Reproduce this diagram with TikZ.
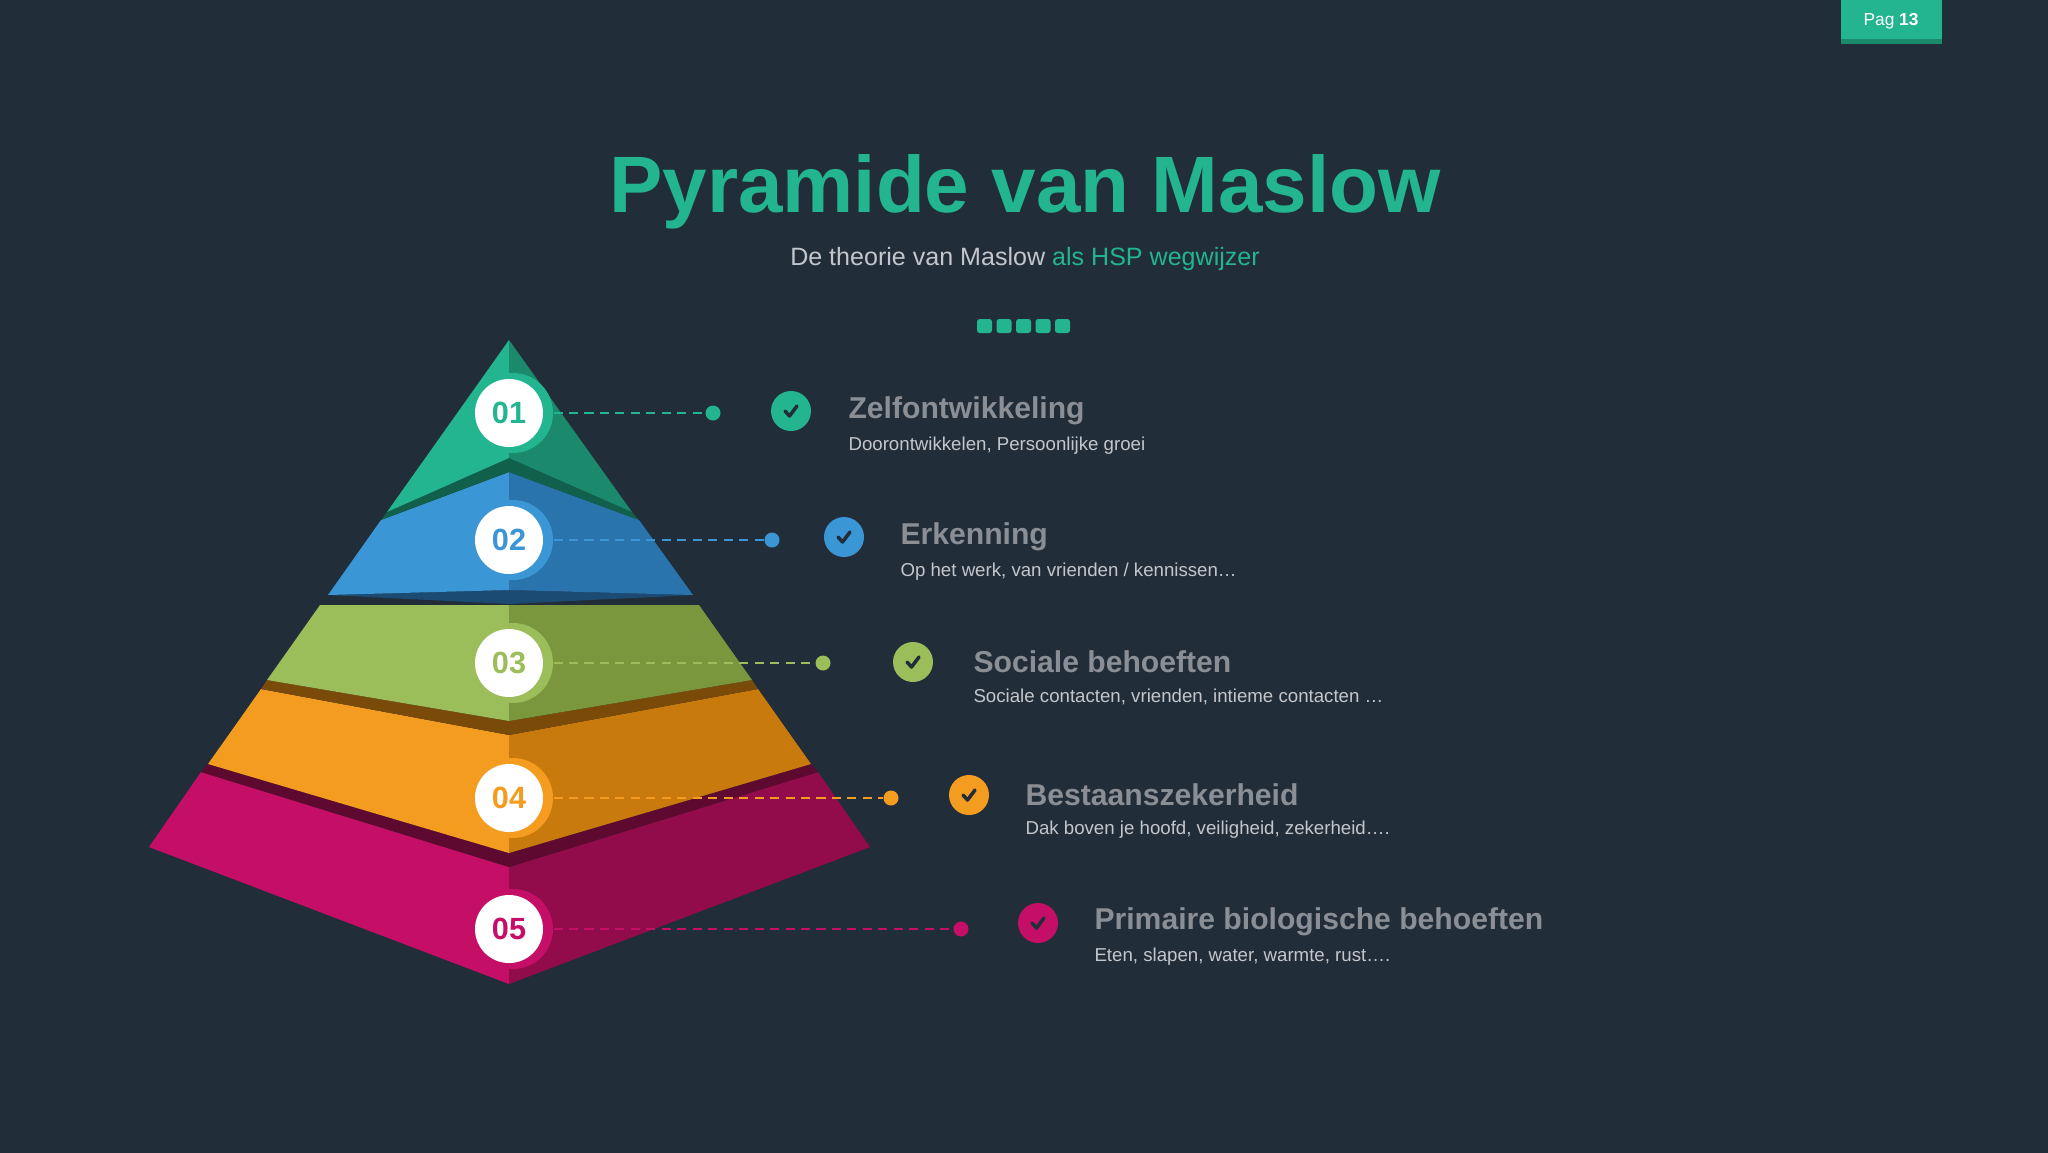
\documentclass[tikz,border=0pt]{standalone}
\usepackage{fontspec}
\setmainfont{Liberation Sans}
\begin{document}
\begin{tikzpicture}[x=0.375pt,y=-0.375pt,
  num/.style={circle,fill=white,minimum size=68*0.375pt,inner sep=0pt,font=\fontsize{11.5}{11.5}\selectfont\bfseries},
  ring/.style={circle,minimum size=80*0.375pt,inner sep=0pt},
  dot/.style={circle,minimum size=15*0.375pt,inner sep=0pt},
  chk/.style={circle,minimum size=40*0.375pt,inner sep=0pt},
  conn/.style={line width=1pt,dash pattern=on 3.4pt off 2.4pt},
  ttl/.style={anchor=west,text=titgray,font=\fontsize{11.3}{12}\selectfont\bfseries,inner sep=0pt},
  sub/.style={anchor=west,text=subgray,font=\fontsize{7.0}{8}\selectfont,inner sep=0pt}]
\definecolor{bg}{HTML}{222D3A}
\definecolor{teal}{HTML}{22B58F}\definecolor{tealD}{HTML}{1B8A6C}\definecolor{tealS}{HTML}{11604B}
\definecolor{blu}{HTML}{3A96D4}\definecolor{bluD}{HTML}{2A74AD}\definecolor{bluS}{HTML}{1B4A72}
\definecolor{lim}{HTML}{9BBD5A}\definecolor{limD}{HTML}{7A973E}\definecolor{limS}{HTML}{7A4A08}
\definecolor{ora}{HTML}{F39C1F}\definecolor{oraD}{HTML}{C97A0C}\definecolor{oraS}{HTML}{5E0A30}
\definecolor{mag}{HTML}{C50E66}\definecolor{magD}{HTML}{920B4B}
\definecolor{titgray}{HTML}{8A8F96}\definecolor{subgray}{HTML}{C3C7CC}
\useasboundingbox (0,0) rectangle (2048,1152);
\fill[bg] (-5,-5) rectangle (2053,1157);
% page tag
\fill[teal] (1841,0) rectangle (1942,43);
\fill[tealD] (1841,39) rectangle (1942,44);
\node[text=white,font=\fontsize{6.5}{7}\selectfont] (pag) at (1891,21) {Pag \textbf{13}};
% title
\node[text=teal,font=\fontsize{30}{32}\selectfont\bfseries] (title) at (1025,192) {Pyramide van Maslow};
\node[text=subgray,font=\fontsize{9.4}{11}\selectfont] (subt) at (1025,259) {De theorie van Maslow \textcolor{teal}{als HSP wegwijzer}};
\foreach \i in {0,...,4}{\fill[teal,rounded corners=1pt] ({977+\i*19.5},319) rectangle ({992+\i*19.5},333);}
% pyramid: magenta
\fill[mag] (201,772) -- (509,867) -- (509,984) -- (149,847) -- cycle;
\fill[magD] (818,772) -- (509,867) -- (509,984) -- (870,847) -- cycle;
\fill[oraS] (208,764) -- (509,853) -- (811,764) -- (818,772) -- (509,867) -- (201,772) -- cycle;
% orange
\fill[ora] (261,689) -- (509,735) -- (509,853) -- (208,764) -- cycle;
\fill[oraD] (758,689) -- (509,735) -- (509,853) -- (811,764) -- cycle;
\fill[limS] (267,680) -- (509,721) -- (752,680) -- (758,689) -- (509,735) -- (261,689) -- cycle;
% lime
\fill[lim] (320,605) -- (509,605) -- (509,721) -- (267,680) -- cycle;
\fill[limD] (699,605) -- (509,605) -- (509,721) -- (752,680) -- cycle;
% blue
\fill[bluS] (328,595) -- (509,590) -- (693,595) -- (509,604) -- cycle;
\fill[blu] (381,520) -- (509,472) -- (509,590) -- (328,595) -- cycle;
\fill[bluD] (639,520) -- (509,472) -- (509,590) -- (693,595) -- cycle;
\fill[tealS] (387,512) -- (509,458) -- (632,512) -- (639,520) -- (509,472) -- (381,520) -- cycle;
% green
\fill[teal] (509,340) -- (509,458) -- (387,512) -- cycle;
\fill[tealD] (509,340) -- (509,458) -- (632,512) -- cycle;
% levels
\foreach \n/\y/\c/\dx/\kx/\ky/\tx/\ty/\sy/\T/\S in {
 1/413/teal/713/791/411/848/411/446/Zelfontwikkeling/{Doorontwikkelen, Persoonlijke groei},
 2/540/blu/772/844/537/900/537/572/Erkenning/{Op het werk, van vrienden / kennissen…},
 3/663/lim/823/913/662/973/662/697/Sociale behoeften/{Sociale contacten, vrienden, intieme contacten …},
 4/798/ora/891/969/795/1025/795/830/Bestaanszekerheid/{Dak boven je hoofd, veiligheid, zekerheid….},
 5/929/mag/961/1038/923/1094/922/957/Primaire biologische behoeften/{Eten, slapen, water, warmte, rust….}}{
  \node[ring,fill=\c] (r\n) at (513,\y) {};
  \node[num,text=\c] (c\n) at (509,\y) {0\n};
  \node[dot,fill=\c] (d\n) at (\dx,\y) {};
  \draw[conn,draw=\c] (r\n.east) -- (d\n.west);
  \node[chk,fill=\c] (k\n) at (\kx,\ky) {};
  \draw[bg,line width=1.3pt,line cap=round,line join=round] ([shift={(-6,0)}]k\n.center) -- ([shift={(-1.5,5)}]k\n.center) -- ([shift={(6,-5)}]k\n.center);
  \node[ttl] (t\n) at (\tx,\ty) {\T};
  \node[sub] (s\n) at (\tx,\sy) {\S};
}
\end{tikzpicture}
\end{document}
